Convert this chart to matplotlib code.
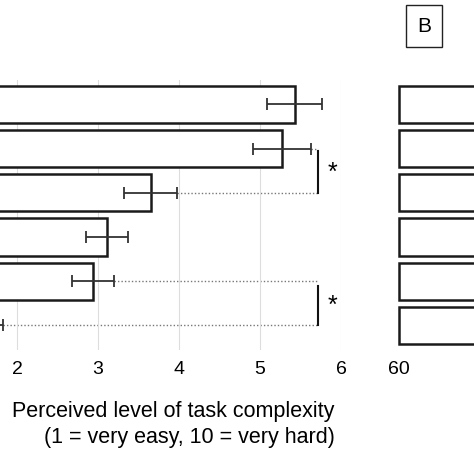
import matplotlib
matplotlib.use("Agg")
import matplotlib.pyplot as plt

plt.rcParams["font.family"] = ["Liberation Sans", "DejaVu Sans"]

# Panel A: perceived task complexity (top bar first)
means = [5.43, 5.27, 3.65, 3.11, 2.94, 1.55]
errs = [0.34, 0.36, 0.33, 0.26, 0.26, 0.28]
xticks = [2, 3, 4, 5, 6]
# Panel B (only its left edge is visible)
b_values = [95, 95, 95, 95, 95, 95]

fig = plt.figure(figsize=(4.74, 4.74), dpi=100)
ax = fig.add_axes([0.0, 0.262, 341 / 474, 0.569])
ypos = list(range(len(means)))
ax.barh(ypos, means, height=0.84, color="white", edgecolor="#1a1a1a", linewidth=1.8, zorder=2)
ax.errorbar(means, ypos, xerr=errs, fmt="none", ecolor="#333333", elinewidth=1.3,
            capsize=4, capthick=1.3, zorder=3)
ax.set_xlim(1.79, 6.0)
ax.set_ylim(5.55, -0.55)
ax.set_xticks(xticks)
ax.set_yticks([])
ax.grid(axis="x", color="#dddddd", linewidth=0.8, zorder=0)
for s in ax.spines.values():
    s.set_visible(False)
ax.tick_params(axis="x", length=0, labelsize=14, pad=8)

# significance brackets
bx = 5.71
for a, b in [(1, 2), (4, 5)]:
    for i in (a, b):
        ax.plot([means[i] + errs[i], bx], [i, i], ls=(0, (1, 1.5)), color="#777777", lw=1, zorder=1,
                clip_on=False)
    ax.plot([bx, bx], [a + 0.05 if a == 1 else a + 0.1, b], color="#111111", lw=1.5, clip_on=False)
    ax.text(5.9, (a + b) / 2 + 0.05, "*", fontsize=18, ha="center", va="center")

fig.text(334 / 474, 1 - 412 / 474, "Perceived level of task complexity", ha="right", va="center",
         fontsize=15.5)
fig.text(335 / 474, 1 - 437 / 474, "(1 = very easy, 10 = very hard)", ha="right", va="center",
         fontsize=15.5)

# Panel B
ax2 = fig.add_axes([398 / 474, 0.262, 0.4, 0.569])
ax2.barh(ypos, [v - 60 for v in b_values], left=60, height=0.84, color="white",
         edgecolor="#1a1a1a", linewidth=1.8)
ax2.set_xlim(59.8, 100)
ax2.set_ylim(5.55, -0.55)
ax2.set_xticks([60])
ax2.set_yticks([])
for s in ax2.spines.values():
    s.set_visible(False)
ax2.tick_params(axis="x", length=0, labelsize=14, pad=8)
fig.text(424 / 474, 1 - 26 / 474, "B", ha="center", va="center", fontsize=15,
         bbox=dict(boxstyle="square,pad=0.55", facecolor="white", edgecolor="#222222", lw=1))

fig.savefig("out.png", dpi=100)
